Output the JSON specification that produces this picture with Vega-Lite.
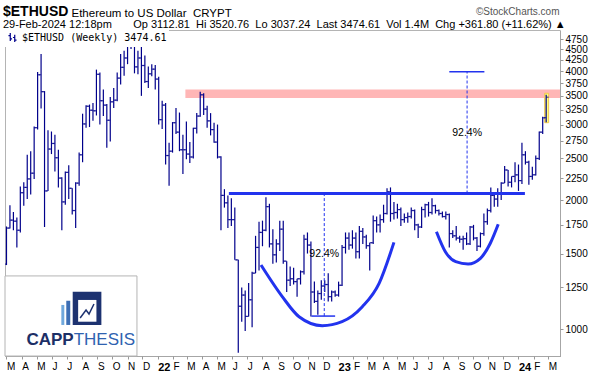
{
  "$schema": "https://vega.github.io/schema/vega-lite/v6.json",
  "width": 555,
  "height": 326,
  "autosize": {"type": "none"},
  "padding": {"left": 5, "top": 30, "right": 33, "bottom": 18},
  "background": "white",
  "title": {
    "text": "$ETHUSD",
    "subtitle": "29-Feb-2024 12:18pm\u00a0\u00a0\u00a0\u00a0\u00a0\u00a0\u00a0Op 3112.81\u00a0 Hi 3520.76\u00a0 Lo 3037.24\u00a0 Last 3474.61\u00a0 Vol 1.4M\u00a0 Chg +361.80 (+11.62%) \u25b2",
    "anchor": "start",
    "frame": "group",
    "offset": -24,
    "dx": -2,
    "font": "Liberation Sans",
    "fontSize": 14,
    "fontWeight": "bold",
    "color": "black",
    "subtitleFont": "Liberation Sans",
    "subtitleFontSize": 11,
    "subtitleColor": "black",
    "subtitlePadding": 0.5
  },
  "config": {
    "view": {"stroke": "#b4b4b4"},
    "axis": {"grid": false}
  },
  "datasets": {
    "ohlc": [
      {"d":"2021-03-01","o":1417,"h":1735,"l":1410,"c":1720},
      {"d":"2021-03-08","o":1720,"h":1945,"l":1715,"c":1795},
      {"d":"2021-03-15","o":1795,"h":1875,"l":1700,"c":1785},
      {"d":"2021-03-22","o":1785,"h":1820,"l":1550,"c":1700},
      {"d":"2021-03-29","o":1700,"h":2150,"l":1680,"c":2080},
      {"d":"2021-04-05","o":2080,"h":2200,"l":1940,"c":2140},
      {"d":"2021-04-12","o":2140,"h":2550,"l":2010,"c":2240},
      {"d":"2021-04-19","o":2240,"h":2600,"l":2060,"c":2310},
      {"d":"2021-04-26","o":2310,"h":2970,"l":2240,"c":2950},
      {"d":"2021-05-03","o":2950,"h":3980,"l":2920,"c":3920},
      {"d":"2021-05-10","o":3920,"h":4380,"l":3270,"c":3580},
      {"d":"2021-05-17","o":3580,"h":3590,"l":1730,"c":2100},
      {"d":"2021-05-24","o":2100,"h":2910,"l":2100,"c":2630},
      {"d":"2021-05-31","o":2630,"h":2890,"l":2560,"c":2710},
      {"d":"2021-06-07","o":2710,"h":2840,"l":2330,"c":2510},
      {"d":"2021-06-14","o":2510,"h":2620,"l":2140,"c":2250},
      {"d":"2021-06-21","o":2250,"h":2260,"l":1700,"c":1980},
      {"d":"2021-06-28","o":1980,"h":2330,"l":1950,"c":2320},
      {"d":"2021-07-05","o":2320,"h":2410,"l":2010,"c":2130},
      {"d":"2021-07-12","o":2130,"h":2130,"l":1850,"c":1890},
      {"d":"2021-07-19","o":1890,"h":2200,"l":1720,"c":2190},
      {"d":"2021-07-26","o":2190,"h":2580,"l":2160,"c":2550},
      {"d":"2021-08-02","o":2550,"h":3180,"l":2450,"c":3010},
      {"d":"2021-08-09","o":3010,"h":3330,"l":2950,"c":3310},
      {"d":"2021-08-16","o":3310,"h":3340,"l":2960,"c":3240},
      {"d":"2021-08-23","o":3240,"h":3370,"l":3060,"c":3230},
      {"d":"2021-08-30","o":3230,"h":4030,"l":3150,"c":3930},
      {"d":"2021-09-06","o":3930,"h":3970,"l":3000,"c":3410},
      {"d":"2021-09-13","o":3410,"h":3620,"l":3140,"c":3330},
      {"d":"2021-09-20","o":3330,"h":3350,"l":2650,"c":3070},
      {"d":"2021-09-27","o":3070,"h":3480,"l":2740,"c":3390},
      {"d":"2021-10-04","o":3390,"h":3650,"l":3280,"c":3420},
      {"d":"2021-10-11","o":3420,"h":3970,"l":3400,"c":3850},
      {"d":"2021-10-18","o":3850,"h":4380,"l":3720,"c":4080},
      {"d":"2021-10-25","o":4080,"h":4460,"l":3900,"c":4290},
      {"d":"2021-11-01","o":4290,"h":4660,"l":4150,"c":4610},
      {"d":"2021-11-08","o":4610,"h":4870,"l":4500,"c":4630},
      {"d":"2021-11-15","o":4630,"h":4770,"l":3950,"c":4090},
      {"d":"2021-11-22","o":4090,"h":4460,"l":3930,"c":4290},
      {"d":"2021-11-29","o":4290,"h":4780,"l":3500,"c":4120},
      {"d":"2021-12-06","o":4120,"h":4350,"l":3750,"c":3780},
      {"d":"2021-12-13","o":3780,"h":4100,"l":3650,"c":3940},
      {"d":"2021-12-20","o":3940,"h":4150,"l":3890,"c":4040},
      {"d":"2021-12-27","o":4040,"h":4130,"l":3620,"c":3830},
      {"d":"2022-01-03","o":3830,"h":3880,"l":3000,"c":3080},
      {"d":"2022-01-10","o":3080,"h":3410,"l":2930,"c":3330},
      {"d":"2022-01-17","o":3330,"h":3370,"l":2420,"c":2540},
      {"d":"2022-01-24","o":2540,"h":2720,"l":2160,"c":2600},
      {"d":"2022-01-31","o":2600,"h":3040,"l":2580,"c":3030},
      {"d":"2022-02-07","o":3030,"h":3280,"l":2850,"c":2880},
      {"d":"2022-02-14","o":2880,"h":3200,"l":2600,"c":2620},
      {"d":"2022-02-21","o":2620,"h":2840,"l":2300,"c":2620},
      {"d":"2022-02-28","o":2620,"h":3050,"l":2490,"c":2560},
      {"d":"2022-03-07","o":2560,"h":2730,"l":2440,"c":2520},
      {"d":"2022-03-14","o":2520,"h":2950,"l":2500,"c":2940},
      {"d":"2022-03-21","o":2940,"h":3190,"l":2860,"c":3140},
      {"d":"2022-03-28","o":3140,"h":3580,"l":3130,"c":3520},
      {"d":"2022-04-04","o":3520,"h":3550,"l":3160,"c":3260},
      {"d":"2022-04-11","o":3260,"h":3320,"l":2950,"c":3060},
      {"d":"2022-04-18","o":3060,"h":3190,"l":2830,"c":2920},
      {"d":"2022-04-25","o":2920,"h":3030,"l":2720,"c":2730},
      {"d":"2022-05-02","o":2730,"h":3000,"l":2500,"c":2520},
      {"d":"2022-05-09","o":2520,"h":2530,"l":1700,"c":2050},
      {"d":"2022-05-16","o":2050,"h":2120,"l":1920,"c":1970},
      {"d":"2022-05-23","o":1970,"h":2050,"l":1720,"c":1800},
      {"d":"2022-05-30","o":1800,"h":2020,"l":1740,"c":1800},
      {"d":"2022-06-06","o":1800,"h":1920,"l":1450,"c":1450},
      {"d":"2022-06-13","o":1450,"h":1450,"l":880,"c":1130},
      {"d":"2022-06-20","o":1130,"h":1250,"l":1040,"c":1200},
      {"d":"2022-06-27","o":1200,"h":1230,"l":990,"c":1070},
      {"d":"2022-07-04","o":1070,"h":1280,"l":1070,"c":1170},
      {"d":"2022-07-11","o":1170,"h":1360,"l":1010,"c":1350},
      {"d":"2022-07-18","o":1350,"h":1650,"l":1350,"c":1550},
      {"d":"2022-07-25","o":1550,"h":1780,"l":1370,"c":1680},
      {"d":"2022-08-01","o":1680,"h":1790,"l":1560,"c":1700},
      {"d":"2022-08-08","o":1700,"h":2030,"l":1690,"c":1930},
      {"d":"2022-08-15","o":1930,"h":1960,"l":1550,"c":1580},
      {"d":"2022-08-22","o":1580,"h":1710,"l":1420,"c":1490},
      {"d":"2022-08-29","o":1490,"h":1620,"l":1430,"c":1580},
      {"d":"2022-09-05","o":1580,"h":1790,"l":1520,"c":1710},
      {"d":"2022-09-12","o":1710,"h":1790,"l":1420,"c":1440},
      {"d":"2022-09-19","o":1440,"h":1440,"l":1220,"c":1300},
      {"d":"2022-09-26","o":1300,"h":1400,"l":1260,"c":1310},
      {"d":"2022-10-03","o":1310,"h":1390,"l":1270,"c":1290},
      {"d":"2022-10-10","o":1290,"h":1310,"l":1190,"c":1310},
      {"d":"2022-10-17","o":1310,"h":1370,"l":1270,"c":1360},
      {"d":"2022-10-24","o":1360,"h":1660,"l":1340,"c":1620},
      {"d":"2022-10-31","o":1620,"h":1680,"l":1500,"c":1570},
      {"d":"2022-11-07","o":1570,"h":1600,"l":1070,"c":1220},
      {"d":"2022-11-14","o":1220,"h":1290,"l":1150,"c":1160},
      {"d":"2022-11-21","o":1160,"h":1230,"l":1080,"c":1210},
      {"d":"2022-11-28","o":1210,"h":1300,"l":1170,"c":1260},
      {"d":"2022-12-05","o":1260,"h":1300,"l":1220,"c":1270},
      {"d":"2022-12-12","o":1270,"h":1350,"l":1160,"c":1190},
      {"d":"2022-12-19","o":1190,"h":1230,"l":1160,"c":1220},
      {"d":"2022-12-26","o":1220,"h":1230,"l":1190,"c":1200},
      {"d":"2023-01-02","o":1200,"h":1290,"l":1190,"c":1265},
      {"d":"2023-01-09","o":1265,"h":1570,"l":1260,"c":1550},
      {"d":"2023-01-16","o":1550,"h":1680,"l":1500,"c":1630},
      {"d":"2023-01-23","o":1630,"h":1680,"l":1530,"c":1570},
      {"d":"2023-01-30","o":1570,"h":1700,"l":1540,"c":1630},
      {"d":"2023-02-06","o":1630,"h":1680,"l":1460,"c":1515},
      {"d":"2023-02-13","o":1515,"h":1740,"l":1460,"c":1690},
      {"d":"2023-02-20","o":1690,"h":1720,"l":1580,"c":1640},
      {"d":"2023-02-27","o":1640,"h":1660,"l":1540,"c":1565},
      {"d":"2023-03-06","o":1565,"h":1590,"l":1370,"c":1590},
      {"d":"2023-03-13","o":1590,"h":1840,"l":1580,"c":1790},
      {"d":"2023-03-20","o":1790,"h":1830,"l":1680,"c":1750},
      {"d":"2023-03-27","o":1750,"h":1850,"l":1680,"c":1800},
      {"d":"2023-04-03","o":1800,"h":1950,"l":1770,"c":1860},
      {"d":"2023-04-10","o":1860,"h":2130,"l":1850,"c":2090},
      {"d":"2023-04-17","o":2090,"h":2140,"l":1780,"c":1860},
      {"d":"2023-04-24","o":1860,"h":1980,"l":1800,"c":1870},
      {"d":"2023-05-01","o":1870,"h":1960,"l":1810,"c":1900},
      {"d":"2023-05-08","o":1900,"h":1920,"l":1740,"c":1800},
      {"d":"2023-05-15","o":1800,"h":1860,"l":1770,"c":1820},
      {"d":"2023-05-22","o":1820,"h":1870,"l":1770,"c":1830},
      {"d":"2023-05-29","o":1830,"h":1920,"l":1810,"c":1890},
      {"d":"2023-06-05","o":1890,"h":1900,"l":1700,"c":1750},
      {"d":"2023-06-12","o":1750,"h":1760,"l":1630,"c":1730},
      {"d":"2023-06-19","o":1730,"h":1930,"l":1720,"c":1900},
      {"d":"2023-06-26","o":1900,"h":1960,"l":1820,"c":1950},
      {"d":"2023-07-03","o":1950,"h":1980,"l":1830,"c":1870},
      {"d":"2023-07-10","o":1870,"h":2020,"l":1850,"c":1940},
      {"d":"2023-07-17","o":1940,"h":1950,"l":1860,"c":1890},
      {"d":"2023-07-24","o":1890,"h":1900,"l":1840,"c":1860},
      {"d":"2023-07-31","o":1860,"h":1880,"l":1820,"c":1830},
      {"d":"2023-08-07","o":1830,"h":1880,"l":1800,"c":1850},
      {"d":"2023-08-14","o":1850,"h":1860,"l":1550,"c":1670},
      {"d":"2023-08-21","o":1670,"h":1700,"l":1630,"c":1650},
      {"d":"2023-08-28","o":1650,"h":1740,"l":1610,"c":1630},
      {"d":"2023-09-04","o":1630,"h":1650,"l":1590,"c":1620},
      {"d":"2023-09-11","o":1620,"h":1650,"l":1530,"c":1625},
      {"d":"2023-09-18","o":1625,"h":1680,"l":1570,"c":1580},
      {"d":"2023-09-25","o":1580,"h":1740,"l":1570,"c":1730},
      {"d":"2023-10-02","o":1730,"h":1750,"l":1610,"c":1630},
      {"d":"2023-10-09","o":1630,"h":1640,"l":1520,"c":1560},
      {"d":"2023-10-16","o":1560,"h":1680,"l":1550,"c":1670},
      {"d":"2023-10-23","o":1670,"h":1860,"l":1650,"c":1780},
      {"d":"2023-10-30","o":1780,"h":1910,"l":1750,"c":1890},
      {"d":"2023-11-06","o":1890,"h":2140,"l":1870,"c":2050},
      {"d":"2023-11-13","o":2050,"h":2080,"l":1930,"c":2010},
      {"d":"2023-11-20","o":2010,"h":2130,"l":1930,"c":2080},
      {"d":"2023-11-27","o":2080,"h":2200,"l":2000,"c":2190},
      {"d":"2023-12-04","o":2190,"h":2400,"l":2190,"c":2350},
      {"d":"2023-12-11","o":2350,"h":2350,"l":2150,"c":2200},
      {"d":"2023-12-18","o":2200,"h":2270,"l":2140,"c":2270},
      {"d":"2023-12-25","o":2270,"h":2450,"l":2200,"c":2290},
      {"d":"2024-01-01","o":2290,"h":2420,"l":2100,"c":2220},
      {"d":"2024-01-08","o":2220,"h":2720,"l":2180,"c":2550},
      {"d":"2024-01-15","o":2550,"h":2600,"l":2420,"c":2450},
      {"d":"2024-01-22","o":2450,"h":2470,"l":2170,"c":2270},
      {"d":"2024-01-29","o":2270,"h":2390,"l":2230,"c":2290},
      {"d":"2024-02-05","o":2290,"h":2540,"l":2280,"c":2500},
      {"d":"2024-02-12","o":2500,"h":2890,"l":2480,"c":2880},
      {"d":"2024-02-19","o":2880,"h":3130,"l":2850,"c":3110},
      {"d":"2024-02-26","o":3112.81,"h":3520.76,"l":3037.24,"c":3474.61}
    ],
    "cups": [
      {"cup":1,"d":"2022-07-29","p":1410},
      {"cup":1,"d":"2022-09-10","p":1190},
      {"cup":1,"d":"2022-10-14","p":1068},
      {"cup":1,"d":"2022-11-30","p":1018},
      {"cup":1,"d":"2023-01-09","p":1040},
      {"cup":1,"d":"2023-02-19","p":1127},
      {"cup":1,"d":"2023-03-25","p":1278},
      {"cup":1,"d":"2023-04-24","p":1593},
      {"cup":2,"d":"2023-07-19","p":1687},
      {"cup":2,"d":"2023-08-06","p":1515},
      {"cup":2,"d":"2023-08-27","p":1436},
      {"cup":2,"d":"2023-09-21","p":1418},
      {"cup":2,"d":"2023-10-16","p":1462},
      {"cup":2,"d":"2023-11-05","p":1585},
      {"cup":2,"d":"2023-11-21","p":1755}
    ]
  },
  "layer": [
    {
      "data": {"values": [{"start":"2022-02-26","end":"2024-03-25","lo":3460,"hi":3620}]},
      "mark": {"type": "rect", "color": "#ffb6b6"},
      "encoding": {
        "x": {
          "field": "start", "type": "temporal",
          "scale": {"type": "utc", "domain": [{"year":2021,"month":2,"date":26,"utc":true},{"year":2024,"month":3,"date":25,"utc":true}]},
          "axis": {
            "orient": "bottom",
            "tickCount": {"interval": "month", "step": 1},
            "labelExpr": "utcmonth(datum.value)==0 ? utcFormat(datum.value,'%y') : substring('JFMAMJJASOND', utcmonth(datum.value), utcmonth(datum.value)+1)",
            "labelAlign": "left",
            "labelPadding": 2,
            "labelFont": "Liberation Sans",
            "labelFontSize": {"condition": {"test": "utcmonth(datum.value)==0", "value": 11}, "value": 10},
            "labelFontWeight": {"condition": {"test": "utcmonth(datum.value)==0", "value": "bold"}, "value": "normal"},
            "labelColor": "black",
            "labelOverlap": false,
            "labelFlush": false,
            "labelBound": false,
            "domainColor": "#999", "domainDash": [1,1],
            "tickColor": "#999", "tickSize": 3,
            "title": "Ethereum to US Dollar\u00a0\u00a0CRYPT",
            "titleX": 66, "titleY": -340,
            "titleAlign": "left", "titleBaseline": "alphabetic",
            "titleFont": "Liberation Sans",
            "titleFontSize": 11.5, "titleFontWeight": "normal", "titleColor": "black"
          }
        },
        "x2": {"field": "end"},
        "y": {
          "field": "lo", "type": "quantitative",
          "scale": {"type": "log", "domain": [865, 4986], "nice": false},
          "axis": {
            "orient": "right",
            "values": [1000,1250,1500,1750,2000,2250,2500,2750,3000,3250,3500,3750,4000,4250,4500,4750],
            "format": "d",
            "labelFont": "Liberation Sans", "labelFontSize": 10, "labelColor": "black",
            "labelPadding": 2, "labelOverlap": false, "labelBound": false,
            "domainColor": "#999", "domainDash": [1,1],
            "tickColor": "#999", "tickSize": 3,
            "title": "\u00a9StockCharts.com",
            "titleAngle": 0, "titleX": -1, "titleY": -16,
            "titleAlign": "right", "titleBaseline": "alphabetic",
            "titleFont": "Liberation Sans", "titleFontSize": 10, "titleFontWeight": "normal", "titleColor": "#555"
          }
        },
        "y2": {"field": "hi"}
      }
    },
    {
      "data": {"values": [{"start":"2024-02-23","end":"2024-03-02","lo":3030,"hi":3550}]},
      "mark": {"type": "rect", "fill": "#ffff80", "stroke": "#f2c84b", "strokeWidth": 1},
      "encoding": {
        "x": {"field": "start", "type": "temporal"},
        "x2": {"field": "end"},
        "y": {"field": "lo", "type": "quantitative"},
        "y2": {"field": "hi"}
      }
    },
    {
      "data": {"name": "ohlc"},
      "mark": {"type": "rule", "strokeWidth": 1.2, "clip": true},
      "encoding": {
        "x": {"field": "d", "type": "temporal"},
        "y": {"field": "l", "type": "quantitative"},
        "y2": {"field": "h"},
        "color": {
          "datum": "$ETHUSD (Weekly) 3474.61", "type": "nominal",
          "scale": {"range": ["#00008b"]},
          "legend": {
            "orient": "top-left", "offset": 0, "padding": 2, "fillColor": "white",
            "title": null,
            "symbolType": "M-0.5,-1V0.8M-0.5,-0.4H-0.9M-0.5,0.3H-0.1M0.5,-0.6V1M0.5,0H0.1M0.5,0.6H0.9",
            "symbolSize": 80, "symbolStrokeWidth": 1.2, "symbolStrokeColor": "#00008b", "symbolFillColor": "transparent",
            "labelFont": "DejaVu Sans Mono", "labelFontSize": 10, "labelColor": "black", "labelLimit": 300, "labelOffset": 4
          }
        }
      }
    },
    {
      "data": {"name": "ohlc"},
      "mark": {"type": "tick", "orient": "horizontal", "size": 2.5, "thickness": 1.2, "xOffset": -1.2, "color": "#00008b", "clip": true},
      "encoding": {
        "x": {"field": "d", "type": "temporal"},
        "y": {"field": "o", "type": "quantitative"}
      }
    },
    {
      "data": {"name": "ohlc"},
      "mark": {"type": "tick", "orient": "horizontal", "size": 2.5, "thickness": 1.2, "xOffset": 1.2, "color": "#00008b", "clip": true},
      "encoding": {
        "x": {"field": "d", "type": "temporal"},
        "y": {"field": "c", "type": "quantitative"}
      }
    },
    {
      "data": {"values": [{"start":"2022-05-25","end":"2024-01-14","p":2071}]},
      "mark": {"type": "rule", "color": "#2233ee", "strokeWidth": 3},
      "encoding": {
        "x": {"field": "start", "type": "temporal"},
        "x2": {"field": "end"},
        "y": {"field": "p", "type": "quantitative"}
      }
    },
    {
      "data": {"values": [{"start":"2022-11-08","end":"2022-12-26","p":1072},{"start":"2023-08-14","end":"2023-10-24","p":3985}]},
      "mark": {"type": "rule", "color": "#2233ee", "strokeWidth": 1.5},
      "encoding": {
        "x": {"field": "start", "type": "temporal"},
        "x2": {"field": "end"},
        "y": {"field": "p", "type": "quantitative"}
      }
    },
    {
      "data": {"values": [{"d":"2022-12-04","lo":1072,"hi":2071},{"d":"2023-09-19","lo":2071,"hi":3985}]},
      "mark": {"type": "rule", "color": "#2233ee", "strokeWidth": 1, "strokeDash": [3,2]},
      "encoding": {
        "x": {"field": "d", "type": "temporal"},
        "y": {"field": "lo", "type": "quantitative"},
        "y2": {"field": "hi"}
      }
    },
    {
      "data": {"name": "cups"},
      "mark": {"type": "line", "color": "#2233ee", "strokeWidth": 3, "interpolate": "monotone"},
      "encoding": {
        "x": {"field": "d", "type": "temporal"},
        "y": {"field": "p", "type": "quantitative"},
        "detail": {"field": "cup", "type": "nominal"}
      }
    },
    {
      "data": {"values": [{"d":"2022-12-04","p":1497,"t":"92.4%"},{"d":"2023-09-19","p":2866,"t":"92.4%"}]},
      "mark": {"type": "text", "font": "Liberation Sans", "fontSize": 10.5, "color": "black", "align": "center", "baseline": "middle"},
      "encoding": {
        "x": {"field": "d", "type": "temporal"},
        "y": {"field": "p", "type": "quantitative"},
        "text": {"field": "t"}
      }
    },
    {
      "data": {"values": [{"start":"2021-02-26","end":"2021-11-20","lo":865,"hi":1330}]},
      "mark": {"type": "rect", "fill": "white", "stroke": "#b4b4b4", "strokeWidth": 1},
      "encoding": {
        "x": {"field": "start", "type": "temporal"},
        "x2": {"field": "end"},
        "y": {"field": "lo", "type": "quantitative"},
        "y2": {"field": "hi"}
      }
    },
    {
      "data": {"values": [{"start":"2021-06-20","end":"2021-06-26","lo":1022,"hi":1138}]},
      "mark": {"type": "rect", "fill": "#6fa8dc"},
      "encoding": {
        "x": {"field": "start", "type": "temporal"},
        "x2": {"field": "end"},
        "y": {"field": "lo", "type": "quantitative"},
        "y2": {"field": "hi"}
      }
    },
    {
      "data": {"values": [{"start":"2021-06-30","end":"2021-07-08","lo":1022,"hi":1164}]},
      "mark": {"type": "rect", "fill": "#3c6eb4"},
      "encoding": {
        "x": {"field": "start", "type": "temporal"},
        "x2": {"field": "end"},
        "y": {"field": "lo", "type": "quantitative"},
        "y2": {"field": "hi"}
      }
    },
    {
      "data": {"values": [{"start":"2021-07-13","end":"2021-09-09","lo":1022,"hi":1222}]},
      "mark": {"type": "rect", "fill": "#1d3270"},
      "encoding": {
        "x": {"field": "start", "type": "temporal"},
        "x2": {"field": "end"},
        "y": {"field": "lo", "type": "quantitative"},
        "y2": {"field": "hi"}
      }
    },
    {
      "data": {"values": [{"start":"2021-07-24","end":"2021-08-30","lo":1040,"hi":1169}]},
      "mark": {"type": "rect", "fill": "white"},
      "encoding": {
        "x": {"field": "start", "type": "temporal"},
        "x2": {"field": "end"},
        "y": {"field": "lo", "type": "quantitative"},
        "y2": {"field": "hi"}
      }
    },
    {
      "data": {"values": [{"d":"2021-07-28","p":1061},{"d":"2021-08-09","p":1107},{"d":"2021-08-15","p":1084},{"d":"2021-08-25","p":1144}]},
      "mark": {"type": "line", "color": "#1d3270", "strokeWidth": 1.5},
      "encoding": {
        "x": {"field": "d", "type": "temporal"},
        "y": {"field": "p", "type": "quantitative"}
      }
    },
    {
      "data": {"values": [{"d":"2021-07-15","p":918,"t":"CAPP"}]},
      "mark": {"type": "text", "font": "Liberation Sans", "fontSize": 17, "fontWeight": "bold", "color": "#1c2f66", "align": "right", "baseline": "alphabetic"},
      "encoding": {
        "x": {"field": "d", "type": "temporal"},
        "y": {"field": "p", "type": "quantitative"},
        "text": {"field": "t"}
      }
    },
    {
      "data": {"values": [{"d":"2021-07-15","p":918,"t":"THESIS"}]},
      "mark": {"type": "text", "font": "Liberation Sans", "fontSize": 17, "fontWeight": "normal", "color": "#2f62b0", "align": "left", "baseline": "alphabetic"},
      "encoding": {
        "x": {"field": "d", "type": "temporal"},
        "y": {"field": "p", "type": "quantitative"},
        "text": {"field": "t"}
      }
    }
  ]
}
